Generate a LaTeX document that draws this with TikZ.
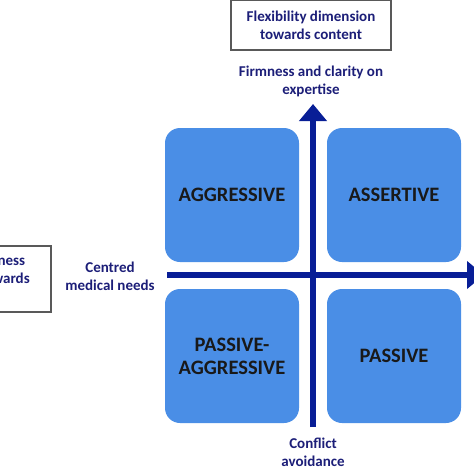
\documentclass[tikz,border=0pt]{standalone}
\usepackage{fontspec}
\setmainfont{Carlito}
\usetikzlibrary{arrows.meta}
\definecolor{cNavy}{RGB}{28,30,120}
\definecolor{cAxis}{RGB}{8,30,150}
\definecolor{cBox}{RGB}{74,142,230}

\begin{document}
\begin{tikzpicture}[x=1pt,y=-1pt,
        quad/.style={fill=cBox, rounded corners=15pt, minimum width=134pt, minimum height=134pt,
                inner sep=0pt, align=center, text=black!90, font=\bfseries\fontsize{20.5}{23}\selectfont},
        dimbox/.style={draw=black!65, line width=1.2pt, fill=white, minimum width=160pt, minimum height=50pt,
                align=center, text=cNavy, font=\bfseries\fontsize{15}{18}\selectfont},
        axislabel/.style={align=center, text=cNavy, font=\bfseries\fontsize{15}{18}\selectfont},
        axis/.style={draw=cAxis, line width=6pt, -{Triangle[width=27pt,length=17pt]}}]
        \useasboundingbox (0,0) rectangle (474,474);
        % the four quadrants
        \node[quad] (aggr) at (232,195) {AGGRESSIVE};
        \node[quad] (asser) at (394,195) {ASSERTIVE};
        \node[quad] (paggr) at (232,356) {PASSIVE-\\AGGRESSIVE};
        \node[quad] (pass) at (394,356) {PASSIVE};
        % axes
        \coordinate (hstart) at (167,275);
        \coordinate (hend) at (484,275);
        \coordinate (vstart) at (313,427);
        \coordinate (vend) at (313,104);
        \draw[axis] (hstart) -- (hend);
        \draw[axis] (vstart) -- (vend);
        % labels
        \node[dimbox] (flex) at (311,25) {Flexibility dimension\\towards content};
        \node[dimbox, minimum width=162pt, minimum height=66pt] (firm) at (-30,279)
                {Personal firmness\\dimension towards\\patient};
        \node[axislabel] (top) at (311,81) {Firmness and clarity on\\expertise};
        \node[axislabel] (left) at (110,276) {Centred\\medical needs};
        \node[axislabel] (bottom) at (313,452) {Conflict\\avoidance};
\end{tikzpicture}
\end{document}
